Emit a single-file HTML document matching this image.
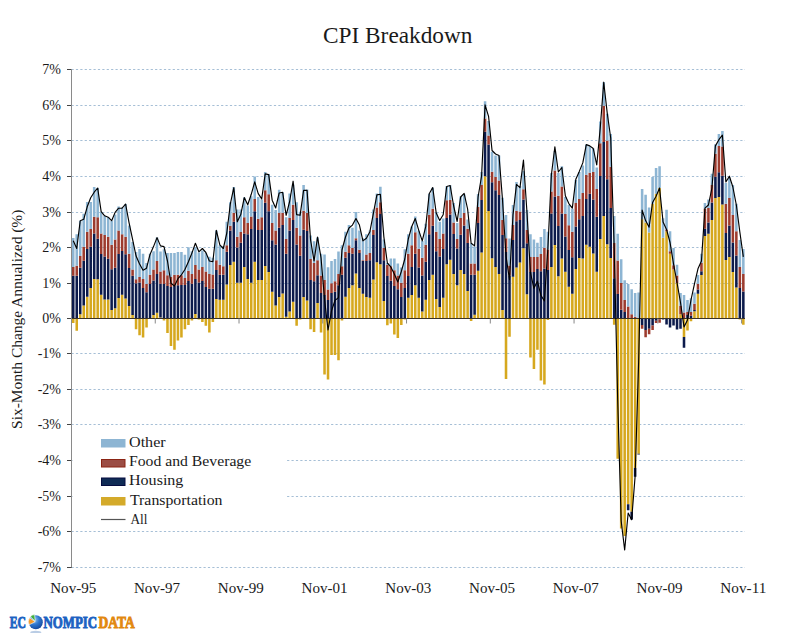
<!DOCTYPE html>
<html><head><meta charset="utf-8"><style>
html,body{margin:0;padding:0;background:#fff;}
svg{display:block;}
text{font-family:"Liberation Serif",serif;}
</style></head><body>
<svg width="800" height="633" viewBox="0 0 800 633" fill="#1a1a1a">
<rect width="800" height="633" fill="#fff"/>
<text x="323" y="42.5" font-size="22.5" textLength="149.5" lengthAdjust="spacingAndGlyphs">CPI Breakdown</text>
<g stroke="#A6BFD6" stroke-width="1" stroke-dasharray="2.2 2.2" stroke-dashoffset="-3.9">
<line x1="72" y1="69.50" x2="745" y2="69.50"/><line x1="72" y1="105.50" x2="745" y2="105.50"/><line x1="72" y1="140.50" x2="745" y2="140.50"/><line x1="72" y1="176.50" x2="745" y2="176.50"/><line x1="72" y1="212.50" x2="745" y2="212.50"/><line x1="72" y1="247.50" x2="745" y2="247.50"/><line x1="72" y1="283.50" x2="745" y2="283.50"/><line x1="72" y1="353.50" x2="745" y2="353.50"/><line x1="72" y1="389.50" x2="745" y2="389.50"/><line x1="72" y1="424.50" x2="745" y2="424.50"/><line x1="72" y1="460.50" x2="745" y2="460.50"/><line x1="72" y1="496.50" x2="745" y2="496.50"/><line x1="72" y1="531.50" x2="745" y2="531.50"/><line x1="72" y1="567.50" x2="745" y2="567.50"/>
</g>
<path fill="#D6A81E" d="M71.97 318.50h2.55v4.60h-2.55zM75.46 318.50h2.55v12.30h-2.55zM78.95 314.20h2.55v4.30h-2.55zM82.44 305.60h2.55v12.90h-2.55zM85.94 296.80h2.55v21.70h-2.55zM89.42 287.90h2.55v30.60h-2.55zM92.91 278.90h2.55v39.60h-2.55zM96.41 279.20h2.55v39.30h-2.55zM99.89 294.70h2.55v23.80h-2.55zM103.38 299.60h2.55v18.90h-2.55zM106.88 299.60h2.55v18.90h-2.55zM110.36 310.00h2.55v8.50h-2.55zM113.85 308.30h2.55v10.20h-2.55zM117.34 297.90h2.55v20.60h-2.55zM120.83 294.70h2.55v23.80h-2.55zM124.32 298.60h2.55v19.90h-2.55zM127.81 306.00h2.55v12.50h-2.55zM131.31 314.90h2.55v3.60h-2.55zM134.79 318.50h2.55v10.80h-2.55zM138.28 318.50h2.55v16.70h-2.55zM141.78 318.50h2.55v18.90h-2.55zM145.27 318.50h2.55v9.00h-2.55zM148.75 318.50h2.55v0.50h-2.55zM152.25 315.00h2.55v3.50h-2.55zM155.73 312.80h2.55v5.70h-2.55zM159.22 317.40h2.55v1.10h-2.55zM162.72 318.50h2.55v2.00h-2.55zM166.21 318.50h2.55v14.50h-2.55zM169.69 318.50h2.55v27.60h-2.55zM173.19 318.50h2.55v31.30h-2.55zM176.67 318.50h2.55v22.10h-2.55zM180.16 318.50h2.55v18.90h-2.55zM183.66 318.50h2.55v10.80h-2.55zM187.15 318.50h2.55v6.40h-2.55zM190.64 318.50h2.55v2.00h-2.55zM194.12 314.10h2.55v4.40h-2.55zM197.62 318.50h2.55v1.00h-2.55zM201.10 318.50h2.55v3.50h-2.55zM204.59 318.50h2.55v7.30h-2.55zM208.09 318.50h2.55v14.00h-2.55zM211.58 318.50h2.55v3.50h-2.55zM215.06 299.00h2.55v19.50h-2.55zM218.56 299.70h2.55v18.80h-2.55zM222.05 299.70h2.55v18.80h-2.55zM225.53 284.60h2.55v33.90h-2.55zM229.03 264.90h2.55v53.60h-2.55zM232.52 261.70h2.55v56.80h-2.55zM236.00 282.70h2.55v35.80h-2.55zM239.50 282.70h2.55v35.80h-2.55zM242.99 266.90h2.55v51.60h-2.55zM246.47 279.10h2.55v39.40h-2.55zM249.97 282.70h2.55v35.80h-2.55zM253.46 261.70h2.55v56.80h-2.55zM256.95 280.00h2.55v38.50h-2.55zM260.44 280.00h2.55v38.50h-2.55zM263.93 266.00h2.55v52.50h-2.55zM267.42 271.90h2.55v46.60h-2.55zM270.91 291.80h2.55v26.70h-2.55zM274.40 305.60h2.55v12.90h-2.55zM277.89 297.10h2.55v21.40h-2.55zM281.38 293.50h2.55v25.00h-2.55zM284.87 316.80h2.55v1.70h-2.55zM288.36 311.50h2.55v7.00h-2.55zM291.85 301.70h2.55v16.80h-2.55zM295.34 318.50h2.55v7.30h-2.55zM298.83 318.50h2.55v1.00h-2.55zM302.32 297.10h2.55v21.40h-2.55zM305.81 300.60h2.55v17.90h-2.55zM309.30 318.50h2.55v10.80h-2.55zM312.79 318.50h2.55v13.40h-2.55zM316.28 303.00h2.55v15.50h-2.55zM319.77 318.50h2.55v14.00h-2.55zM323.26 318.50h2.55v56.10h-2.55zM326.75 318.50h2.55v61.10h-2.55zM330.24 318.50h2.55v36.40h-2.55zM333.73 318.50h2.55v36.40h-2.55zM337.22 318.50h2.55v41.80h-2.55zM340.71 318.50h2.55v2.00h-2.55zM344.20 296.70h2.55v21.80h-2.55zM347.69 287.90h2.55v30.60h-2.55zM351.18 285.30h2.55v33.20h-2.55zM354.67 273.50h2.55v45.00h-2.55zM358.16 287.90h2.55v30.60h-2.55zM361.65 293.80h2.55v24.70h-2.55zM365.14 297.10h2.55v21.40h-2.55zM368.63 297.70h2.55v20.80h-2.55zM372.12 279.40h2.55v39.10h-2.55zM375.61 262.30h2.55v56.20h-2.55zM379.10 264.30h2.55v54.20h-2.55zM382.59 301.00h2.55v17.50h-2.55zM386.08 318.50h2.55v6.80h-2.55zM389.57 318.50h2.55v5.10h-2.55zM393.06 318.50h2.55v16.00h-2.55zM396.55 318.50h2.55v19.50h-2.55zM400.04 318.50h2.55v6.40h-2.55zM403.53 318.50h2.55v1.00h-2.55zM407.02 297.70h2.55v20.80h-2.55zM410.51 295.10h2.55v23.40h-2.55zM414.00 285.30h2.55v33.20h-2.55zM417.49 297.70h2.55v20.80h-2.55zM420.98 311.50h2.55v7.00h-2.55zM424.47 299.70h2.55v18.80h-2.55zM427.96 280.00h2.55v38.50h-2.55zM431.45 274.80h2.55v43.70h-2.55zM434.94 299.10h2.55v19.40h-2.55zM438.43 306.90h2.55v11.60h-2.55zM441.92 297.70h2.55v20.80h-2.55zM445.41 264.30h2.55v54.20h-2.55zM448.90 259.70h2.55v58.80h-2.55zM452.39 274.00h2.55v44.50h-2.55zM455.88 285.20h2.55v33.30h-2.55zM459.37 270.10h2.55v48.40h-2.55zM462.86 274.00h2.55v44.50h-2.55zM466.35 291.10h2.55v27.40h-2.55zM469.84 318.50h2.55v2.40h-2.55zM473.33 314.70h2.55v3.80h-2.55zM476.82 270.70h2.55v47.80h-2.55zM480.31 252.40h2.55v66.10h-2.55zM483.80 176.30h2.55v142.20h-2.55zM487.29 211.10h2.55v107.40h-2.55zM490.78 258.30h2.55v60.20h-2.55zM494.27 266.90h2.55v51.60h-2.55zM497.76 274.00h2.55v44.50h-2.55zM501.25 310.10h2.55v8.40h-2.55zM504.74 318.50h2.55v60.40h-2.55zM508.23 318.50h2.55v18.20h-2.55zM511.72 276.80h2.55v41.70h-2.55zM515.21 267.60h2.55v50.90h-2.55zM518.70 262.40h2.55v56.10h-2.55zM522.19 248.30h2.55v70.20h-2.55zM525.68 294.20h2.55v24.30h-2.55zM529.17 318.50h2.55v38.90h-2.55zM532.66 318.50h2.55v50.60h-2.55zM536.15 318.50h2.55v31.30h-2.55zM539.64 318.50h2.55v61.90h-2.55zM543.13 318.50h2.55v66.10h-2.55zM546.62 318.50h2.55v1.50h-2.55zM550.11 266.90h2.55v51.60h-2.55zM553.60 245.10h2.55v73.40h-2.55zM557.09 276.20h2.55v42.30h-2.55zM560.58 258.60h2.55v59.90h-2.55zM564.07 271.70h2.55v46.80h-2.55zM567.56 286.80h2.55v31.70h-2.55zM571.05 293.80h2.55v24.70h-2.55zM574.54 269.10h2.55v49.40h-2.55zM578.02 258.00h2.55v60.50h-2.55zM581.51 258.60h2.55v59.90h-2.55zM585.01 244.80h2.55v73.70h-2.55zM588.50 246.80h2.55v71.70h-2.55zM591.99 253.40h2.55v65.10h-2.55zM595.48 271.70h2.55v46.80h-2.55zM598.97 239.00h2.55v79.50h-2.55zM602.46 216.00h2.55v102.50h-2.55zM605.95 244.20h2.55v74.30h-2.55zM609.44 258.00h2.55v60.50h-2.55zM612.93 318.50h2.55v6.30h-2.55zM616.42 318.50h2.55v140.30h-2.55zM619.91 318.50h2.55v210.00h-2.55zM623.40 318.50h2.55v217.40h-2.55zM626.89 318.50h2.55v185.68h-2.55zM630.38 318.50h2.55v193.15h-2.55zM633.87 318.50h2.55v149.39h-2.55zM637.36 318.50h2.55v135.17h-2.55zM640.85 219.26h2.55v99.24h-2.55zM644.34 222.46h2.55v96.04h-2.55zM647.83 232.42h2.55v86.08h-2.55zM651.32 203.96h2.55v114.54h-2.55zM654.81 193.65h2.55v124.85h-2.55zM658.30 187.96h2.55v130.54h-2.55zM661.79 237.76h2.55v80.74h-2.55zM665.28 231.35h2.55v87.15h-2.55zM668.77 253.76h2.55v64.74h-2.55zM672.26 269.41h2.55v49.09h-2.55zM675.75 282.93h2.55v35.57h-2.55zM679.24 314.23h2.55v4.27h-2.55zM682.73 318.50h2.55v18.50h-2.55zM686.22 318.50h2.55v12.09h-2.55zM689.71 318.50h2.55v2.85h-2.55zM693.20 311.30h2.55v7.20h-2.55zM696.69 293.80h2.55v24.70h-2.55zM700.18 275.00h2.55v43.50h-2.55zM703.67 236.00h2.55v82.50h-2.55zM707.16 233.80h2.55v84.70h-2.55zM710.65 220.00h2.55v98.50h-2.55zM714.14 198.10h2.55v120.40h-2.55zM717.63 196.90h2.55v121.60h-2.55zM721.12 204.40h2.55v114.10h-2.55zM724.61 260.00h2.55v58.50h-2.55zM728.10 256.90h2.55v61.60h-2.55zM731.59 271.90h2.55v46.60h-2.55zM735.08 287.50h2.55v31.00h-2.55zM738.57 318.50h2.55v0.90h-2.55zM742.06 318.50h2.55v6.30h-2.55z"/>
<path fill="#0C1A4B" d="M71.97 275.70h2.55v42.80h-2.55zM75.46 275.70h2.55v42.80h-2.55zM78.95 267.80h2.55v46.40h-2.55zM82.44 260.80h2.55v44.80h-2.55zM85.94 248.90h2.55v47.90h-2.55zM89.42 246.80h2.55v41.10h-2.55zM92.91 233.50h2.55v45.40h-2.55zM96.41 238.75h2.55v40.45h-2.55zM99.89 253.90h2.55v40.80h-2.55zM103.38 256.50h2.55v43.10h-2.55zM106.88 258.75h2.55v40.85h-2.55zM110.36 269.20h2.55v40.80h-2.55zM113.85 267.80h2.55v40.50h-2.55zM117.34 253.90h2.55v44.00h-2.55zM120.83 251.10h2.55v43.60h-2.55zM124.32 254.20h2.55v44.40h-2.55zM127.81 268.00h2.55v38.00h-2.55zM131.31 275.70h2.55v39.20h-2.55zM134.79 283.30h2.55v35.20h-2.55zM138.28 282.60h2.55v35.90h-2.55zM141.78 287.90h2.55v30.60h-2.55zM145.27 292.20h2.55v26.30h-2.55zM148.75 284.00h2.55v34.50h-2.55zM152.25 280.40h2.55v34.60h-2.55zM155.73 274.10h2.55v38.70h-2.55zM159.22 283.70h2.55v33.70h-2.55zM162.72 284.00h2.55v34.50h-2.55zM166.21 286.00h2.55v32.50h-2.55zM169.69 287.00h2.55v31.50h-2.55zM173.19 286.00h2.55v32.50h-2.55zM176.67 285.30h2.55v33.20h-2.55zM180.16 285.00h2.55v33.50h-2.55zM183.66 285.00h2.55v33.50h-2.55zM187.15 281.00h2.55v37.50h-2.55zM190.64 283.70h2.55v34.80h-2.55zM194.12 279.00h2.55v35.10h-2.55zM197.62 282.60h2.55v35.90h-2.55zM201.10 281.00h2.55v37.50h-2.55zM204.59 287.00h2.55v31.50h-2.55zM208.09 288.80h2.55v29.70h-2.55zM211.58 288.80h2.55v29.70h-2.55zM215.06 269.90h2.55v29.10h-2.55zM218.56 274.80h2.55v24.90h-2.55zM222.05 274.80h2.55v24.90h-2.55zM225.53 251.80h2.55v32.80h-2.55zM229.03 230.40h2.55v34.50h-2.55zM232.52 221.80h2.55v39.90h-2.55zM236.00 247.40h2.55v35.30h-2.55zM239.50 242.80h2.55v39.90h-2.55zM242.99 233.60h2.55v33.30h-2.55zM246.47 234.30h2.55v44.80h-2.55zM249.97 229.00h2.55v53.70h-2.55zM253.46 211.30h2.55v50.40h-2.55zM256.95 230.10h2.55v49.90h-2.55zM260.44 230.10h2.55v49.90h-2.55zM263.93 202.80h2.55v63.20h-2.55zM267.42 211.30h2.55v60.60h-2.55zM270.91 240.20h2.55v51.60h-2.55zM274.40 244.60h2.55v61.00h-2.55zM277.89 227.70h2.55v69.40h-2.55zM281.38 224.90h2.55v68.60h-2.55zM284.87 253.80h2.55v63.00h-2.55zM288.36 230.60h2.55v80.90h-2.55zM291.85 219.90h2.55v81.80h-2.55zM295.34 244.60h2.55v73.90h-2.55zM298.83 255.70h2.55v62.80h-2.55zM302.32 229.70h2.55v67.40h-2.55zM305.81 231.00h2.55v69.60h-2.55zM309.30 280.00h2.55v38.50h-2.55zM312.79 281.30h2.55v37.20h-2.55zM316.28 275.20h2.55v27.80h-2.55zM319.77 293.10h2.55v25.40h-2.55zM323.26 295.10h2.55v23.40h-2.55zM326.75 300.10h2.55v18.40h-2.55zM330.24 293.10h2.55v25.40h-2.55zM333.73 291.80h2.55v26.70h-2.55zM337.22 285.30h2.55v33.20h-2.55zM340.71 274.80h2.55v43.70h-2.55zM344.20 257.70h2.55v39.00h-2.55zM347.69 253.10h2.55v34.80h-2.55zM351.18 253.80h2.55v31.50h-2.55zM354.67 240.20h2.55v33.30h-2.55zM358.16 253.10h2.55v34.80h-2.55zM361.65 261.00h2.55v32.80h-2.55zM365.14 261.00h2.55v36.10h-2.55zM368.63 260.30h2.55v37.40h-2.55zM372.12 235.00h2.55v44.40h-2.55zM375.61 217.90h2.55v44.40h-2.55zM379.10 214.00h2.55v50.30h-2.55zM382.59 260.30h2.55v40.70h-2.55zM386.08 276.10h2.55v42.40h-2.55zM389.57 280.70h2.55v37.80h-2.55zM393.06 285.90h2.55v32.60h-2.55zM396.55 289.20h2.55v29.30h-2.55zM400.04 297.10h2.55v21.40h-2.55zM403.53 287.90h2.55v30.60h-2.55zM407.02 276.10h2.55v21.60h-2.55zM410.51 266.90h2.55v28.20h-2.55zM414.00 253.80h2.55v31.50h-2.55zM417.49 267.60h2.55v30.10h-2.55zM420.98 275.40h2.55v36.10h-2.55zM424.47 261.70h2.55v38.00h-2.55zM427.96 234.30h2.55v45.70h-2.55zM431.45 225.80h2.55v49.00h-2.55zM434.94 251.20h2.55v47.90h-2.55zM438.43 256.40h2.55v50.50h-2.55zM441.92 248.90h2.55v48.80h-2.55zM445.41 217.90h2.55v46.40h-2.55zM448.90 214.60h2.55v45.10h-2.55zM452.39 234.00h2.55v40.00h-2.55zM455.88 248.50h2.55v36.70h-2.55zM459.37 234.70h2.55v35.40h-2.55zM462.86 225.50h2.55v48.50h-2.55zM466.35 243.00h2.55v48.10h-2.55zM469.84 274.70h2.55v43.80h-2.55zM473.33 274.70h2.55v40.00h-2.55zM476.82 222.90h2.55v47.80h-2.55zM480.31 200.00h2.55v52.40h-2.55zM483.80 131.70h2.55v44.60h-2.55zM487.29 144.50h2.55v66.60h-2.55zM490.78 182.20h2.55v76.10h-2.55zM494.27 190.30h2.55v76.60h-2.55zM497.76 194.90h2.55v79.10h-2.55zM501.25 235.00h2.55v75.10h-2.55zM504.74 251.90h2.55v66.60h-2.55zM508.23 275.40h2.55v43.10h-2.55zM511.72 240.00h2.55v36.80h-2.55zM515.21 221.20h2.55v46.40h-2.55zM518.70 220.10h2.55v42.30h-2.55zM522.19 199.50h2.55v48.80h-2.55zM525.68 243.20h2.55v51.00h-2.55zM529.17 272.00h2.55v46.50h-2.55zM532.66 271.90h2.55v46.60h-2.55zM536.15 269.10h2.55v49.40h-2.55zM539.64 271.20h2.55v47.30h-2.55zM543.13 268.40h2.55v50.10h-2.55zM546.62 270.10h2.55v48.40h-2.55zM550.11 213.50h2.55v53.40h-2.55zM553.60 196.40h2.55v48.70h-2.55zM557.09 226.10h2.55v50.10h-2.55zM560.58 213.40h2.55v45.20h-2.55zM564.07 236.60h2.55v35.10h-2.55zM567.56 250.10h2.55v36.70h-2.55zM571.05 257.30h2.55v36.50h-2.55zM574.54 226.50h2.55v42.60h-2.55zM578.02 219.30h2.55v38.70h-2.55zM581.51 216.00h2.55v42.60h-2.55zM585.01 199.00h2.55v45.80h-2.55zM588.50 193.70h2.55v53.10h-2.55zM591.99 199.60h2.55v53.80h-2.55zM595.48 216.70h2.55v55.00h-2.55zM598.97 176.00h2.55v63.00h-2.55zM602.46 141.90h2.55v74.10h-2.55zM605.95 179.30h2.55v64.90h-2.55zM609.44 208.10h2.55v49.90h-2.55zM612.93 278.30h2.55v40.20h-2.55zM616.42 294.00h2.55v24.50h-2.55zM619.91 309.80h2.55v8.70h-2.55zM623.40 312.00h2.55v6.50h-2.55zM626.89 504.18h2.55v6.05h-2.55zM630.38 511.65h2.55v7.83h-2.55zM633.87 467.89h2.55v8.89h-2.55zM637.36 453.67h2.55v0.71h-2.55zM640.85 318.50h2.55v6.40h-2.55zM644.34 318.50h2.55v11.38h-2.55zM647.83 318.50h2.55v10.32h-2.55zM651.32 318.50h2.55v7.11h-2.55zM654.81 318.50h2.55v2.13h-2.55zM658.30 318.50h2.55v0.71h-2.55zM661.79 318.50h2.55v1.07h-2.55zM665.28 318.50h2.55v6.05h-2.55zM668.77 318.50h2.55v8.89h-2.55zM672.26 318.50h2.55v7.11h-2.55zM675.75 318.50h2.55v11.03h-2.55zM679.24 318.50h2.55v10.32h-2.55zM682.73 337.00h2.55v10.67h-2.55zM686.22 314.94h2.55v3.56h-2.55zM689.71 315.65h2.55v2.85h-2.55zM693.20 310.00h2.55v1.30h-2.55zM696.69 289.40h2.55v4.40h-2.55zM700.18 271.30h2.55v3.70h-2.55zM703.67 228.80h2.55v7.20h-2.55zM707.16 222.50h2.55v11.30h-2.55zM710.65 202.50h2.55v17.50h-2.55zM714.14 176.80h2.55v21.30h-2.55zM717.63 172.30h2.55v24.60h-2.55zM721.12 175.70h2.55v28.70h-2.55zM724.61 233.10h2.55v26.90h-2.55zM728.10 225.60h2.55v31.30h-2.55zM731.59 242.50h2.55v29.40h-2.55zM735.08 255.60h2.55v31.90h-2.55zM738.57 288.10h2.55v30.40h-2.55zM742.06 291.60h2.55v26.90h-2.55z"/>
<path fill="#9C3B2E" d="M71.97 267.10h2.55v8.60h-2.55zM75.46 265.70h2.55v10.00h-2.55zM78.95 256.00h2.55v11.80h-2.55zM82.44 246.80h2.55v14.00h-2.55zM85.94 231.80h2.55v17.10h-2.55zM89.42 229.00h2.55v17.80h-2.55zM92.91 216.80h2.55v16.70h-2.55zM96.41 217.20h2.55v21.55h-2.55zM99.89 233.60h2.55v20.30h-2.55zM103.38 234.90h2.55v21.60h-2.55zM106.88 236.70h2.55v22.05h-2.55zM110.36 244.70h2.55v24.50h-2.55zM113.85 239.40h2.55v28.40h-2.55zM117.34 230.50h2.55v23.40h-2.55zM120.83 234.20h2.55v16.90h-2.55zM124.32 236.70h2.55v17.50h-2.55zM127.81 253.75h2.55v14.25h-2.55zM131.31 269.40h2.55v6.30h-2.55zM134.79 279.20h2.55v4.10h-2.55zM138.28 277.00h2.55v5.60h-2.55zM141.78 279.00h2.55v8.90h-2.55zM145.27 284.00h2.55v8.20h-2.55zM148.75 274.80h2.55v9.20h-2.55zM152.25 269.50h2.55v10.90h-2.55zM155.73 261.00h2.55v13.10h-2.55zM159.22 271.50h2.55v12.20h-2.55zM162.72 270.20h2.55v13.80h-2.55zM166.21 275.20h2.55v10.80h-2.55zM169.69 276.70h2.55v10.30h-2.55zM173.19 274.80h2.55v11.20h-2.55zM176.67 274.80h2.55v10.50h-2.55zM180.16 275.20h2.55v9.80h-2.55zM183.66 278.00h2.55v7.00h-2.55zM187.15 270.80h2.55v10.20h-2.55zM190.64 273.90h2.55v9.80h-2.55zM194.12 265.00h2.55v14.00h-2.55zM197.62 269.50h2.55v13.10h-2.55zM201.10 266.90h2.55v14.10h-2.55zM204.59 271.50h2.55v15.50h-2.55zM208.09 273.90h2.55v14.90h-2.55zM211.58 274.50h2.55v14.30h-2.55zM215.06 260.30h2.55v9.60h-2.55zM218.56 264.70h2.55v10.10h-2.55zM222.05 266.20h2.55v8.60h-2.55zM225.53 245.20h2.55v6.60h-2.55zM229.03 225.80h2.55v4.60h-2.55zM232.52 212.70h2.55v9.10h-2.55zM236.00 236.70h2.55v10.70h-2.55zM239.50 232.00h2.55v10.80h-2.55zM242.99 217.20h2.55v16.40h-2.55zM246.47 223.10h2.55v11.20h-2.55zM249.97 216.60h2.55v12.40h-2.55zM253.46 198.90h2.55v12.40h-2.55zM256.95 218.80h2.55v11.30h-2.55zM260.44 217.20h2.55v12.90h-2.55zM263.93 190.30h2.55v12.50h-2.55zM267.42 194.30h2.55v17.00h-2.55zM270.91 223.10h2.55v17.10h-2.55zM274.40 230.60h2.55v14.00h-2.55zM277.89 212.70h2.55v15.00h-2.55zM281.38 212.70h2.55v12.20h-2.55zM284.87 238.90h2.55v14.90h-2.55zM288.36 217.90h2.55v12.70h-2.55zM291.85 204.80h2.55v15.10h-2.55zM295.34 227.70h2.55v16.90h-2.55zM298.83 235.60h2.55v20.10h-2.55zM302.32 210.70h2.55v19.00h-2.55zM305.81 212.70h2.55v18.30h-2.55zM309.30 259.00h2.55v21.00h-2.55zM312.79 263.00h2.55v18.30h-2.55zM316.28 260.30h2.55v14.90h-2.55zM319.77 275.40h2.55v17.70h-2.55zM323.26 280.00h2.55v15.10h-2.55zM326.75 289.60h2.55v10.50h-2.55zM330.24 283.30h2.55v9.80h-2.55zM333.73 281.30h2.55v10.50h-2.55zM337.22 273.90h2.55v11.40h-2.55zM340.71 266.20h2.55v8.60h-2.55zM344.20 251.80h2.55v5.90h-2.55zM347.69 245.20h2.55v7.90h-2.55zM351.18 248.10h2.55v5.70h-2.55zM354.67 238.20h2.55v2.00h-2.55zM358.16 249.80h2.55v3.30h-2.55zM361.65 260.30h2.55v0.70h-2.55zM365.14 254.40h2.55v6.60h-2.55zM368.63 253.10h2.55v7.20h-2.55zM372.12 230.10h2.55v4.90h-2.55zM375.61 207.40h2.55v10.50h-2.55zM379.10 202.20h2.55v11.80h-2.55zM382.59 247.90h2.55v12.40h-2.55zM386.08 264.90h2.55v11.20h-2.55zM389.57 266.20h2.55v14.50h-2.55zM393.06 270.20h2.55v15.70h-2.55zM396.55 275.40h2.55v13.80h-2.55zM400.04 282.70h2.55v14.40h-2.55zM403.53 270.20h2.55v17.70h-2.55zM407.02 253.80h2.55v22.30h-2.55zM410.51 245.20h2.55v21.70h-2.55zM414.00 232.30h2.55v21.50h-2.55zM417.49 248.70h2.55v18.90h-2.55zM420.98 257.70h2.55v17.70h-2.55zM424.47 244.80h2.55v16.90h-2.55zM427.96 214.80h2.55v19.50h-2.55zM431.45 208.70h2.55v17.10h-2.55zM434.94 231.70h2.55v19.50h-2.55zM438.43 238.90h2.55v17.50h-2.55zM441.92 233.60h2.55v15.30h-2.55zM445.41 200.30h2.55v17.60h-2.55zM448.90 200.00h2.55v14.60h-2.55zM452.39 222.50h2.55v11.50h-2.55zM455.88 239.00h2.55v9.50h-2.55zM459.37 218.00h2.55v16.70h-2.55zM462.86 213.00h2.55v12.50h-2.55zM466.35 228.80h2.55v14.20h-2.55zM469.84 263.50h2.55v11.20h-2.55zM473.33 263.50h2.55v11.20h-2.55zM476.82 207.00h2.55v15.90h-2.55zM480.31 185.00h2.55v15.00h-2.55zM483.80 118.60h2.55v13.10h-2.55zM487.29 135.60h2.55v8.90h-2.55zM490.78 171.80h2.55v10.40h-2.55zM494.27 177.00h2.55v13.30h-2.55zM497.76 180.50h2.55v14.40h-2.55zM501.25 220.10h2.55v14.90h-2.55zM504.74 238.30h2.55v13.60h-2.55zM508.23 265.40h2.55v10.00h-2.55zM511.72 225.00h2.55v15.00h-2.55zM515.21 210.90h2.55v10.30h-2.55zM518.70 211.60h2.55v8.50h-2.55zM522.19 189.20h2.55v10.30h-2.55zM525.68 229.90h2.55v13.30h-2.55zM529.17 257.00h2.55v15.00h-2.55zM532.66 257.00h2.55v14.90h-2.55zM536.15 257.00h2.55v12.10h-2.55zM539.64 254.10h2.55v17.10h-2.55zM543.13 247.70h2.55v20.70h-2.55zM546.62 249.50h2.55v20.60h-2.55zM550.11 191.40h2.55v22.10h-2.55zM553.60 170.50h2.55v25.90h-2.55zM557.09 195.80h2.55v30.30h-2.55zM560.58 186.50h2.55v26.90h-2.55zM564.07 214.00h2.55v22.60h-2.55zM567.56 225.20h2.55v24.90h-2.55zM571.05 231.80h2.55v25.50h-2.55zM574.54 202.90h2.55v23.60h-2.55zM578.02 199.00h2.55v20.30h-2.55zM581.51 193.00h2.55v23.00h-2.55zM585.01 174.70h2.55v24.30h-2.55zM588.50 172.70h2.55v21.00h-2.55zM591.99 172.10h2.55v27.50h-2.55zM595.48 189.10h2.55v27.60h-2.55zM598.97 143.20h2.55v32.80h-2.55zM602.46 105.80h2.55v36.10h-2.55zM605.95 140.60h2.55v38.70h-2.55zM609.44 166.80h2.55v41.30h-2.55zM612.93 242.90h2.55v35.40h-2.55zM616.42 260.60h2.55v33.40h-2.55zM619.91 282.90h2.55v26.90h-2.55zM623.40 300.00h2.55v12.00h-2.55zM626.89 306.41h2.55v12.09h-2.55zM630.38 314.23h2.55v4.27h-2.55zM633.87 316.72h2.55v1.78h-2.55zM637.36 317.79h2.55v0.71h-2.55zM640.85 324.90h2.55v3.91h-2.55zM644.34 329.88h2.55v7.47h-2.55zM647.83 328.82h2.55v5.34h-2.55zM651.32 325.61h2.55v4.27h-2.55zM654.81 320.63h2.55v2.49h-2.55zM658.30 319.21h2.55v3.56h-2.55zM665.28 229.57h2.55v1.78h-2.55zM668.77 251.27h2.55v2.49h-2.55zM672.26 265.14h2.55v4.27h-2.55zM675.75 275.46h2.55v7.47h-2.55zM679.24 306.05h2.55v8.18h-2.55zM682.73 312.45h2.55v6.05h-2.55zM686.22 312.10h2.55v2.85h-2.55zM689.71 312.10h2.55v3.56h-2.55zM693.20 303.80h2.55v6.20h-2.55zM696.69 283.80h2.55v5.60h-2.55zM700.18 263.10h2.55v8.20h-2.55zM703.67 208.80h2.55v20.00h-2.55zM707.16 208.10h2.55v14.40h-2.55zM710.65 185.00h2.55v17.50h-2.55zM714.14 153.70h2.55v23.10h-2.55zM717.63 145.90h2.55v26.40h-2.55zM721.12 146.40h2.55v29.30h-2.55zM724.61 203.80h2.55v29.30h-2.55zM728.10 198.10h2.55v27.50h-2.55zM731.59 215.00h2.55v27.50h-2.55zM735.08 231.30h2.55v24.30h-2.55zM738.57 266.90h2.55v21.20h-2.55zM742.06 274.00h2.55v17.60h-2.55z"/>
<path fill="#8DB5D3" d="M71.97 238.00h2.55v29.10h-2.55zM75.46 234.20h2.55v31.50h-2.55zM78.95 220.70h2.55v35.30h-2.55zM82.44 213.75h2.55v33.05h-2.55zM85.94 202.00h2.55v29.80h-2.55zM89.42 202.00h2.55v27.00h-2.55zM92.91 187.00h2.55v29.80h-2.55zM96.41 188.00h2.55v29.20h-2.55zM99.89 211.70h2.55v21.90h-2.55zM103.38 215.80h2.55v19.10h-2.55zM106.88 217.20h2.55v19.50h-2.55zM110.36 220.70h2.55v24.00h-2.55zM113.85 214.40h2.55v25.00h-2.55zM117.34 206.40h2.55v24.10h-2.55zM120.83 207.50h2.55v26.70h-2.55zM124.32 204.00h2.55v32.70h-2.55zM127.81 225.60h2.55v28.15h-2.55zM131.31 242.00h2.55v27.40h-2.55zM134.79 252.00h2.55v27.20h-2.55zM138.28 249.00h2.55v28.00h-2.55zM141.78 253.80h2.55v25.20h-2.55zM145.27 263.00h2.55v21.00h-2.55zM148.75 253.80h2.55v21.00h-2.55zM152.25 251.20h2.55v18.30h-2.55zM155.73 237.60h2.55v23.40h-2.55zM159.22 251.50h2.55v20.00h-2.55zM162.72 249.20h2.55v21.00h-2.55zM166.21 253.10h2.55v22.10h-2.55zM169.69 253.10h2.55v23.60h-2.55zM173.19 253.10h2.55v21.70h-2.55zM176.67 252.00h2.55v22.80h-2.55zM180.16 252.00h2.55v23.20h-2.55zM183.66 254.70h2.55v23.30h-2.55zM187.15 247.20h2.55v23.60h-2.55zM190.64 251.20h2.55v22.70h-2.55zM194.12 247.20h2.55v17.80h-2.55zM197.62 252.50h2.55v17.00h-2.55zM201.10 250.50h2.55v16.40h-2.55zM204.59 253.10h2.55v18.40h-2.55zM208.09 256.80h2.55v17.10h-2.55zM211.58 257.70h2.55v16.80h-2.55zM215.06 230.40h2.55v29.90h-2.55zM218.56 245.20h2.55v19.50h-2.55zM222.05 246.00h2.55v20.20h-2.55zM225.53 221.80h2.55v23.40h-2.55zM229.03 202.20h2.55v23.60h-2.55zM232.52 187.00h2.55v25.70h-2.55zM236.00 209.40h2.55v27.30h-2.55zM239.50 209.40h2.55v22.60h-2.55zM242.99 197.60h2.55v19.60h-2.55zM246.47 205.40h2.55v17.70h-2.55zM249.97 196.20h2.55v20.40h-2.55zM253.46 176.60h2.55v22.30h-2.55zM256.95 196.90h2.55v21.90h-2.55zM260.44 199.50h2.55v17.70h-2.55zM263.93 172.00h2.55v18.30h-2.55zM267.42 173.90h2.55v20.40h-2.55zM270.91 204.80h2.55v18.30h-2.55zM274.40 210.00h2.55v20.60h-2.55zM277.89 189.70h2.55v23.00h-2.55zM281.38 192.30h2.55v20.40h-2.55zM284.87 217.20h2.55v21.70h-2.55zM288.36 193.60h2.55v24.30h-2.55zM291.85 184.40h2.55v20.40h-2.55zM295.34 202.20h2.55v25.50h-2.55zM298.83 211.70h2.55v23.90h-2.55zM302.32 185.10h2.55v25.60h-2.55zM305.81 189.40h2.55v23.30h-2.55zM309.30 235.60h2.55v23.40h-2.55zM312.79 241.30h2.55v21.70h-2.55zM316.28 237.60h2.55v22.70h-2.55zM319.77 253.80h2.55v21.60h-2.55zM323.26 254.40h2.55v25.60h-2.55zM326.75 267.30h2.55v22.30h-2.55zM330.24 261.00h2.55v22.30h-2.55zM333.73 259.00h2.55v22.30h-2.55zM337.22 251.50h2.55v22.40h-2.55zM340.71 245.20h2.55v21.00h-2.55zM344.20 231.70h2.55v20.10h-2.55zM347.69 225.10h2.55v20.10h-2.55zM351.18 227.70h2.55v20.40h-2.55zM354.67 212.00h2.55v26.20h-2.55zM358.16 230.40h2.55v19.40h-2.55zM361.65 238.20h2.55v22.10h-2.55zM365.14 234.30h2.55v20.10h-2.55zM368.63 230.40h2.55v22.70h-2.55zM372.12 209.40h2.55v20.70h-2.55zM375.61 193.60h2.55v13.80h-2.55zM379.10 186.80h2.55v15.40h-2.55zM382.59 239.60h2.55v8.30h-2.55zM386.08 263.00h2.55v1.90h-2.55zM389.57 258.40h2.55v7.80h-2.55zM393.06 258.40h2.55v11.80h-2.55zM396.55 263.40h2.55v12.00h-2.55zM400.04 267.60h2.55v15.10h-2.55zM403.53 249.20h2.55v21.00h-2.55zM407.02 234.30h2.55v19.50h-2.55zM410.51 226.40h2.55v18.80h-2.55zM414.00 216.60h2.55v15.70h-2.55zM417.49 230.40h2.55v18.30h-2.55zM420.98 240.90h2.55v16.80h-2.55zM424.47 223.80h2.55v21.00h-2.55zM427.96 193.80h2.55v21.00h-2.55zM431.45 187.70h2.55v21.00h-2.55zM434.94 212.00h2.55v19.70h-2.55zM438.43 221.80h2.55v17.10h-2.55zM441.92 218.60h2.55v15.00h-2.55zM445.41 186.20h2.55v14.10h-2.55zM448.90 185.20h2.55v14.80h-2.55zM452.39 203.00h2.55v19.50h-2.55zM455.88 222.90h2.55v16.10h-2.55zM459.37 196.60h2.55v21.40h-2.55zM462.86 194.30h2.55v18.70h-2.55zM466.35 219.60h2.55v9.20h-2.55zM469.84 243.20h2.55v20.30h-2.55zM473.33 246.50h2.55v17.00h-2.55zM476.82 194.00h2.55v13.00h-2.55zM480.31 172.00h2.55v13.00h-2.55zM483.80 101.30h2.55v17.30h-2.55zM487.29 121.00h2.55v14.60h-2.55zM490.78 151.80h2.55v20.00h-2.55zM494.27 155.60h2.55v21.40h-2.55zM497.76 155.50h2.55v25.00h-2.55zM501.25 197.70h2.55v22.40h-2.55zM504.74 215.00h2.55v23.30h-2.55zM508.23 238.60h2.55v26.80h-2.55zM511.72 205.00h2.55v20.00h-2.55zM515.21 182.00h2.55v28.90h-2.55zM518.70 186.00h2.55v25.60h-2.55zM522.19 171.00h2.55v18.20h-2.55zM525.68 210.00h2.55v19.90h-2.55zM529.17 234.30h2.55v22.70h-2.55zM532.66 239.60h2.55v17.40h-2.55zM536.15 242.70h2.55v14.30h-2.55zM539.64 236.90h2.55v17.20h-2.55zM543.13 229.00h2.55v18.70h-2.55zM546.62 231.80h2.55v17.70h-2.55zM550.11 173.00h2.55v18.40h-2.55zM553.60 151.00h2.55v19.50h-2.55zM557.09 173.00h2.55v22.80h-2.55zM560.58 166.20h2.55v20.30h-2.55zM564.07 197.00h2.55v17.00h-2.55zM567.56 204.90h2.55v20.30h-2.55zM571.05 208.80h2.55v23.00h-2.55zM574.54 179.90h2.55v23.00h-2.55zM578.02 172.00h2.55v27.00h-2.55zM581.51 165.50h2.55v27.50h-2.55zM585.01 144.60h2.55v30.10h-2.55zM588.50 145.90h2.55v26.80h-2.55zM591.99 148.50h2.55v23.60h-2.55zM595.48 167.50h2.55v21.60h-2.55zM598.97 121.60h2.55v21.60h-2.55zM602.46 82.20h2.55v23.60h-2.55zM605.95 113.70h2.55v26.90h-2.55zM609.44 134.00h2.55v32.80h-2.55zM612.93 216.00h2.55v26.90h-2.55zM616.42 233.70h2.55v26.90h-2.55zM619.91 259.30h2.55v23.60h-2.55zM623.40 280.30h2.55v19.70h-2.55zM626.89 284.00h2.55v22.41h-2.55zM630.38 289.33h2.55v24.90h-2.55zM633.87 292.89h2.55v23.83h-2.55zM637.36 292.53h2.55v25.25h-2.55zM640.85 189.03h2.55v30.23h-2.55zM644.34 194.72h2.55v27.74h-2.55zM647.83 207.52h2.55v24.90h-2.55zM651.32 176.93h2.55v27.03h-2.55zM654.81 168.04h2.55v25.61h-2.55zM658.30 166.26h2.55v21.70h-2.55zM661.79 218.19h2.55v19.56h-2.55zM665.28 209.66h2.55v19.92h-2.55zM668.77 231.35h2.55v19.92h-2.55zM672.26 248.07h2.55v17.07h-2.55zM675.75 264.79h2.55v10.67h-2.55zM679.24 292.89h2.55v13.16h-2.55zM682.73 295.02h2.55v17.43h-2.55zM686.22 300.00h2.55v12.09h-2.55zM689.71 298.23h2.55v13.87h-2.55zM693.20 292.50h2.55v11.30h-2.55zM696.69 275.00h2.55v8.80h-2.55zM700.18 253.80h2.55v9.30h-2.55zM703.67 203.10h2.55v5.70h-2.55zM707.16 199.40h2.55v8.70h-2.55zM710.65 173.80h2.55v11.20h-2.55zM714.14 144.20h2.55v9.50h-2.55zM717.63 134.10h2.55v11.80h-2.55zM721.12 131.00h2.55v15.40h-2.55zM724.61 183.10h2.55v20.70h-2.55zM728.10 177.50h2.55v20.60h-2.55zM731.59 185.00h2.55v30.00h-2.55zM735.08 203.80h2.55v27.50h-2.55zM738.57 240.00h2.55v26.90h-2.55zM742.06 249.00h2.55v25.00h-2.55z"/>

<g stroke="#3a3226" stroke-width="1">
<line x1="71.5" y1="318.5" x2="745" y2="318.5"/>
</g>
<g stroke="#888" stroke-width="1">
<line x1="155.26" y1="318.5" x2="155.26" y2="323.5"/><line x1="239.02" y1="318.5" x2="239.02" y2="323.5"/><line x1="322.78" y1="318.5" x2="322.78" y2="323.5"/><line x1="406.54" y1="318.5" x2="406.54" y2="323.5"/><line x1="490.30" y1="318.5" x2="490.30" y2="323.5"/><line x1="574.06" y1="318.5" x2="574.06" y2="323.5"/><line x1="657.82" y1="318.5" x2="657.82" y2="323.5"/><line x1="741.58" y1="318.5" x2="741.58" y2="323.5"/>
</g>
<polyline fill="none" stroke="#000" stroke-width="1.15" stroke-linejoin="round" points="73.25,240.8 76.74,248.5 80.23,220.7 83.72,219.3 87.21,206.8 90.70,197.8 94.19,192.2 97.68,188.0 101.17,211.7 104.66,215.8 108.15,217.2 111.64,220.7 115.13,212.4 118.62,208.2 122.11,208.2 125.60,204.0 129.09,222.8 132.58,239.4 136.07,256.0 139.56,264.0 143.05,270.2 146.54,268.2 150.03,254.4 153.52,246.6 157.01,237.6 160.50,245.9 163.99,246.6 167.48,261.0 170.97,283.3 174.46,286.0 177.95,278.7 181.44,274.8 184.93,269.5 188.42,261.7 191.91,253.1 195.40,243.3 198.89,251.8 202.38,248.5 205.87,252.5 209.36,261.0 212.85,261.7 216.34,230.4 219.83,244.8 223.32,248.5 226.81,233.0 230.30,204.1 233.79,187.7 237.28,221.8 240.77,214.6 244.26,197.6 247.75,204.8 251.24,194.3 254.73,181.8 258.22,193.6 261.71,198.9 265.20,173.9 268.69,174.6 272.18,200.2 275.67,208.0 279.16,193.0 282.65,192.3 286.14,215.3 289.63,201.5 293.12,181.2 296.61,214.6 300.10,215.3 303.59,190.3 307.08,190.3 310.57,240.0 314.06,261.0 317.55,237.0 321.04,258.0 324.53,299.0 328.02,330.0 331.51,310.9 335.00,300.4 338.49,297.6 341.98,250.0 345.47,237.0 348.96,228.0 352.45,225.1 355.94,218.6 359.43,225.1 362.92,240.9 366.41,238.2 369.90,231.7 373.39,213.3 376.88,194.9 380.37,194.3 383.86,236.9 387.35,263.0 390.84,266.9 394.33,274.1 397.82,282.0 401.31,271.5 404.80,259.0 408.29,239.0 411.78,226.4 415.27,218.6 418.76,230.4 422.25,240.9 425.74,226.4 429.23,193.8 432.72,187.5 436.21,213.0 439.70,220.5 443.19,214.7 446.68,186.5 450.17,185.5 453.66,206.0 457.15,221.5 460.64,197.0 464.13,193.3 467.62,209.0 471.11,243.2 474.60,245.9 478.09,197.0 481.58,176.0 485.07,104.8 488.56,116.3 492.05,150.5 495.54,154.0 499.03,155.5 502.52,200.0 506.01,256.0 509.50,279.7 512.99,215.0 516.48,184.4 519.97,187.6 523.46,160.0 526.95,212.0 530.44,272.6 533.93,288.3 537.42,281.2 540.91,295.4 544.40,301.0 547.89,248.0 551.38,175.0 554.87,146.8 558.36,172.0 561.85,167.5 565.34,195.7 568.83,203.6 572.32,208.1 575.81,179.3 579.30,171.4 582.79,162.9 586.28,144.6 589.77,145.9 593.26,148.5 596.75,165.0 600.24,128.0 603.73,82.2 607.22,113.0 610.71,138.0 614.20,248.0 617.69,400.0 621.18,521.0 624.67,550.0 628.16,513.0 631.65,519.7 635.14,476.0 638.63,362.0 642.12,210.1 645.61,220.6 649.10,227.2 652.59,202.5 656.08,196.3 659.57,188.1 663.06,222.0 666.55,229.4 670.04,242.5 673.53,263.8 677.02,282.5 680.51,302.5 684.00,326.9 687.49,320.0 690.98,300.0 694.47,283.8 697.96,268.8 701.45,261.0 704.94,208.1 708.43,205.0 711.92,188.0 715.41,145.9 718.90,139.7 722.39,135.2 725.88,182.0 729.37,176.2 732.86,187.0 736.35,205.0 739.84,232.0 743.33,256.9"/>
<g stroke="#444" stroke-width="1">
<line x1="67" y1="69.50" x2="72" y2="69.50"/><line x1="67" y1="105.50" x2="72" y2="105.50"/><line x1="67" y1="140.50" x2="72" y2="140.50"/><line x1="67" y1="176.50" x2="72" y2="176.50"/><line x1="67" y1="212.50" x2="72" y2="212.50"/><line x1="67" y1="247.50" x2="72" y2="247.50"/><line x1="67" y1="283.50" x2="72" y2="283.50"/><line x1="67" y1="318.50" x2="72" y2="318.50"/><line x1="67" y1="353.50" x2="72" y2="353.50"/><line x1="67" y1="389.50" x2="72" y2="389.50"/><line x1="67" y1="424.50" x2="72" y2="424.50"/><line x1="67" y1="460.50" x2="72" y2="460.50"/><line x1="67" y1="496.50" x2="72" y2="496.50"/><line x1="67" y1="531.50" x2="72" y2="531.50"/><line x1="67" y1="567.50" x2="72" y2="567.50"/>
</g>
<line x1="71.5" y1="69" x2="71.5" y2="567.5" stroke="#8a8a8a" stroke-width="1"/>
<g font-size="14" text-anchor="end">
<text x="61" y="74.10">7%</text><text x="61" y="110.10">6%</text><text x="61" y="145.10">5%</text><text x="61" y="181.10">4%</text><text x="61" y="217.10">3%</text><text x="61" y="252.10">2%</text><text x="61" y="288.10">1%</text><text x="61" y="323.10">0%</text><text x="61" y="358.10">-1%</text><text x="61" y="394.10">-2%</text><text x="61" y="429.10">-3%</text><text x="61" y="465.10">-4%</text><text x="61" y="501.10">-5%</text><text x="61" y="536.10">-6%</text><text x="61" y="572.10">-7%</text>
</g>
<g font-size="15">
<text x="50.25" y="593" textLength="46" lengthAdjust="spacingAndGlyphs">Nov-95</text><text x="134.01" y="593" textLength="46" lengthAdjust="spacingAndGlyphs">Nov-97</text><text x="217.77" y="593" textLength="46" lengthAdjust="spacingAndGlyphs">Nov-99</text><text x="301.53" y="593" textLength="46" lengthAdjust="spacingAndGlyphs">Nov-01</text><text x="385.29" y="593" textLength="46" lengthAdjust="spacingAndGlyphs">Nov-03</text><text x="469.05" y="593" textLength="46" lengthAdjust="spacingAndGlyphs">Nov-05</text><text x="552.81" y="593" textLength="46" lengthAdjust="spacingAndGlyphs">Nov-07</text><text x="636.57" y="593" textLength="46" lengthAdjust="spacingAndGlyphs">Nov-09</text><text x="720.33" y="593" textLength="46" lengthAdjust="spacingAndGlyphs">Nov-11</text>
</g>
<text transform="translate(22 428.9) rotate(-90)" font-size="15" textLength="219.3" lengthAdjust="spacingAndGlyphs">Six-Month Change Annualized (%)</text>
<rect x="72.5" y="428" width="213.5" height="102" fill="#fff"/>
<g>
<rect x="101" y="439" width="24.5" height="8.5" fill="#8DB5D3"/>
<rect x="101.5" y="459.5" width="23.5" height="7.5" fill="#9B4D45" stroke="#8B2414" stroke-width="1"/>
<rect x="101.5" y="478" width="23.5" height="7.5" fill="#0F2B55" stroke="#060C40" stroke-width="1"/>
<rect x="101" y="497" width="24.5" height="8.5" fill="#D4AA2A"/>
<line x1="101" y1="519.5" x2="125.5" y2="519.5" stroke="#555" stroke-width="1.2"/>
</g>
<g font-size="14.2" lengthAdjust="spacingAndGlyphs">
<text x="129" y="447" textLength="36.7" lengthAdjust="spacingAndGlyphs">Other</text>
<text x="129" y="466.2" textLength="122.2" lengthAdjust="spacingAndGlyphs">Food and Beverage</text>
<text x="129" y="485" textLength="54.4" lengthAdjust="spacingAndGlyphs">Housing</text>
<text x="130" y="505" textLength="92.5" lengthAdjust="spacingAndGlyphs">Transportation</text>
<text x="130.5" y="523.5" textLength="17" lengthAdjust="spacingAndGlyphs">All</text>
</g>
<defs>
<radialGradient id="gl" cx="0.38" cy="0.3" r="0.8">
<stop offset="0" stop-color="#9CC8F0"/><stop offset="0.45" stop-color="#2F78D0"/><stop offset="1" stop-color="#0E3E94"/>
</radialGradient>
</defs>
<g font-weight="bold" font-size="16.6" stroke-width="0.9">
<text x="9.8" y="627.8" fill="#1C62C2" stroke="#1C62C2" textLength="16.2" lengthAdjust="spacingAndGlyphs">EC</text>
<text x="43.5" y="627.8" fill="#1C62C2" stroke="#1C62C2" textLength="53.6" lengthAdjust="spacingAndGlyphs">NOMPIC</text>
<text x="98.4" y="627.7" fill="#E2880F" stroke="#E2880F" textLength="36.3" lengthAdjust="spacingAndGlyphs">DATA</text>
</g>
<g>
<ellipse cx="35.8" cy="632.5" rx="5.5" ry="1.8" fill="#9DB8DA" opacity="0.7"/>
<circle cx="35.8" cy="622.3" r="7" fill="url(#gl)"/>
<path d="M35.2 621.8 L29.2 624.8 A6.6 6.6 0 0 1 29.6 617.8 Z" fill="#F39A2A" stroke="#fff" stroke-width="0.6"/>
<path d="M35.2 621.3 L30.4 616.6 A6.6 6.6 0 0 1 34.6 614.6 Z" fill="#43B040" stroke="#fff" stroke-width="0.6"/>
</g>
</svg>
</body></html>
